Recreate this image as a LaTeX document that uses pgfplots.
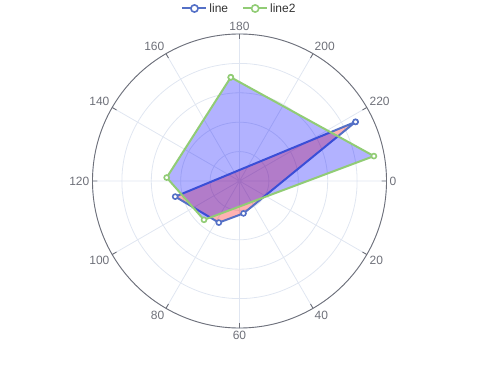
\documentclass[border=0pt]{standalone}
\usepackage{fontspec}
\setmainfont{Liberation Sans}
\usepackage{pgfplots}
\usepackage{pgfplotstable}
\usepgfplotslibrary{polar}
\pgfplotsset{compat=1.18}
\definecolor{c1}{HTML}{5470C6}
\definecolor{c2}{HTML}{91CC75}
\definecolor{axc}{HTML}{6E7079}
\definecolor{grc}{HTML}{E0E6F1}
\definecolor{txt}{HTML}{333333}
\newcommand\echanchor[1]{\ifcase#1 west\or south west\or south west\or south\or south east\or south east\or east\or north east\or north east\or north\or north west\or north west\fi}
% v = angle-axis value (0..240 clockwise from right), r = radius
\pgfplotstableread{
v r
222.0 4.43
55.3 1.11
77.6 1.58
110.9 2.25
222.0 4.43
}\lineA
\pgfplotstableread{
v r
176.8 3.54
233.0 4.65
88.3 1.79
121.8 2.48
176.8 3.54
}\lineB
\begin{document}
\begin{tikzpicture}
\useasboundingbox (0,0) rectangle (479pt,364pt);
\begin{polaraxis}[
  at={(239.5pt,183pt)}, anchor=origin,
  width=294pt, height=294pt, scale only axis,
  xmin=0, xmax=360, ymin=0, ymax=5,
  xtick={0,30,...,330},
  xticklabels={0,220,200,180,160,140,120,100,80,60,40,20},
  ytick={1,2,3,4,5}, yticklabels={},
  grid=major,
  major grid style={draw=grc, line width=0.8pt},
  axis line style={draw=axc, line width=0.9pt},
  y axis line style={draw=none},
  xtick style={draw=axc, line width=0.9pt},
  ytick style={draw=none},
  xtick align=outside, major tick length=5pt,
  xticklabel style={font=\fontsize{12}{14}\selectfont, text=axc, inner sep=0pt,
    anchor=\echanchor{\ticknum}, xshift={8*cos(\tick)}, yshift={8*sin(\tick)}},
  legend style={at={(0.5,1)}, anchor=center, yshift=25.5pt, draw=none, fill=none,
    font=\fontsize{12}{14}\selectfont, text=txt, inner sep=0pt,
    /tikz/every even column/.append style={column sep=12pt}},
  legend columns=2,
  legend image code/.code={\draw[mark repeat=2,mark phase=2,mark size=3.6pt,#1] plot coordinates {(0pt,0pt) (12pt,0pt) (24pt,0pt)};},
]
\addplot[draw=none, fill=red, fill opacity=0.3, forget plot] table[x expr=360-1.5*\thisrow{v}, y=r] {\lineA};
\addplot[c1, line width=2pt, mark=*, mark size=2.5pt, mark options={fill=white, draw=c1, line width=1.6pt}] table[x expr=360-1.5*\thisrow{v}, y=r] {\lineA};
\addlegendentry{line}
\addplot[draw=none, fill=blue, fill opacity=0.3, forget plot] table[x expr=360-1.5*\thisrow{v}, y=r] {\lineB};
\addplot[c2, line width=2pt, mark=*, mark size=2.5pt, mark options={fill=white, draw=c2, line width=1.6pt}] table[x expr=360-1.5*\thisrow{v}, y=r] {\lineB};
\addlegendentry{line2}
\end{polaraxis}
\end{tikzpicture}
\end{document}
